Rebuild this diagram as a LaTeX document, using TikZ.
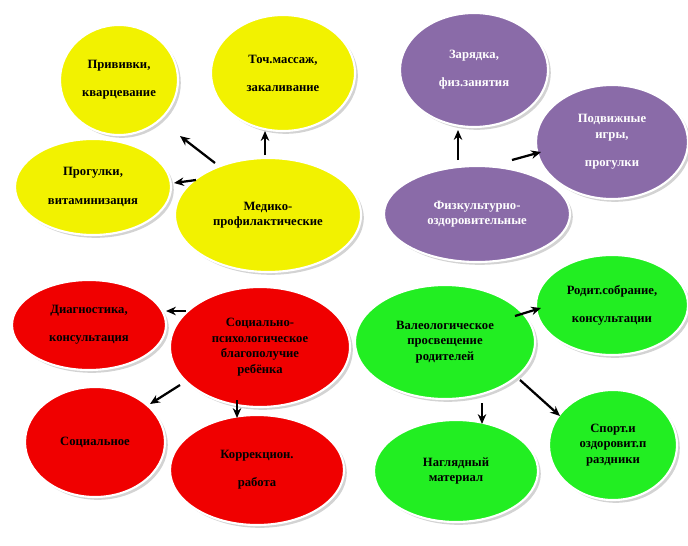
\documentclass[tikz,border=0pt]{standalone}
\usepackage{fontspec}
\setmainfont{Liberation Serif}
\usetikzlibrary{shapes.geometric,arrows.meta,shadows}

\definecolor{yel}{HTML}{F2F200}
\definecolor{vio}{HTML}{8A6BA8}
\definecolor{rd}{HTML}{F00000}
\definecolor{grn}{HTML}{22EE22}

\tikzset{
  bubble/.style={ellipse, inner sep=0pt, align=center, font=\bfseries\small,
    draw=white, line width=1.5pt, drop shadow={shadow xshift=2pt, shadow yshift=-2pt, opacity=.35}},
  yb/.style={bubble, fill=yel},
  vb/.style={bubble, fill=vio, text=white},
  rb/.style={bubble, fill=rd},
  gb/.style={bubble, fill=grn},
  link/.style={-{Stealth[length=7pt,width=6pt]}, line width=1.6pt}
}

\begin{document}
\begin{tikzpicture}[x=0.025cm,y=-0.025cm]
\useasboundingbox (0,0) rectangle (688,545);
% yellow group
\node[yb, minimum width=118*0.025cm, minimum height=110*0.025cm] (priv) at (119,80) {Прививки,\\[9pt]кварцевание};
\node[yb, minimum width=144*0.025cm, minimum height=116*0.025cm] (toch) at (283,73) {Точ.массаж,\\[9pt]закаливание};
\node[yb, minimum width=156*0.025cm, minimum height=96*0.025cm] (prog) at (93,187) {Прогулки,\\[9pt]витаминизация};
\node[yb, minimum width=186*0.025cm, minimum height=114*0.025cm] (med) at (268,215) {Медико-\\профилактические};
% violet group
\node[vb, minimum width=148*0.025cm, minimum height=114*0.025cm] (zar) at (474,70) {Зарядка,\\[9pt]физ.занятия};
\node[vb, minimum width=152*0.025cm, minimum height=114*0.025cm] (podv) at (612,142) {Подвижные\\игры,\\[9pt]прогулки};
\node[vb, minimum width=186*0.025cm, minimum height=96*0.025cm] (fiz) at (477,214) {Физкультурно-\\оздоровительные};
% red group
\node[rb, minimum width=154*0.025cm, minimum height=90*0.025cm] (diag) at (89,325) {Диагностика,\\[9pt]консультация};
\node[rb, minimum width=180*0.025cm, minimum height=120*0.025cm] (soc) at (260,347) {Социально-\\психологическое\\благополучие\\ребёнка};
\node[rb, minimum width=140*0.025cm, minimum height=110*0.025cm] (socl) at (95,442) {Социальное};
\node[rb, minimum width=174*0.025cm, minimum height=110*0.025cm] (korr) at (257,470) {Коррекцион.\\[9pt]работа};
% green group
\node[gb, minimum width=180*0.025cm, minimum height=114*0.025cm] (val) at (445,342) {Валеологическое\\просвещение\\родителей};
\node[gb, minimum width=152*0.025cm, minimum height=100*0.025cm] (rod) at (612,305) {Родит.собрание,\\[9pt]консультации};
\node[gb, minimum width=128*0.025cm, minimum height=110*0.025cm] (sport) at (613,445) {Спорт.и\\оздоровит.п\\раздники};
\node[gb, minimum width=164*0.025cm, minimum height=102*0.025cm] (nagl) at (456,471) {Наглядный\\материал};
% arrow ends
\coordinate (a1) at (215,163); \coordinate (b1) at (180,136);
\coordinate (a2) at (265,155); \coordinate (b2) at (265,131);
\coordinate (a3) at (196,180); \coordinate (b3) at (174,183);
\coordinate (a4) at (458,160); \coordinate (b4) at (458,130);
\coordinate (a5) at (512,160); \coordinate (b5) at (541,152);
\coordinate (a6) at (186,311); \coordinate (b6) at (166,311);
\coordinate (a7) at (180,385); \coordinate (b7) at (150,404);
\coordinate (a8) at (237,400); \coordinate (b8) at (237,418);
\coordinate (a9) at (515,316); \coordinate (b9) at (541,308);
\coordinate (a10) at (482,403); \coordinate (b10) at (482,424);
\coordinate (a11) at (520,380); \coordinate (b11) at (560,416);
\foreach \i in {1,...,11} \draw[link] (a\i) -- (b\i);
\end{tikzpicture}
\end{document}
